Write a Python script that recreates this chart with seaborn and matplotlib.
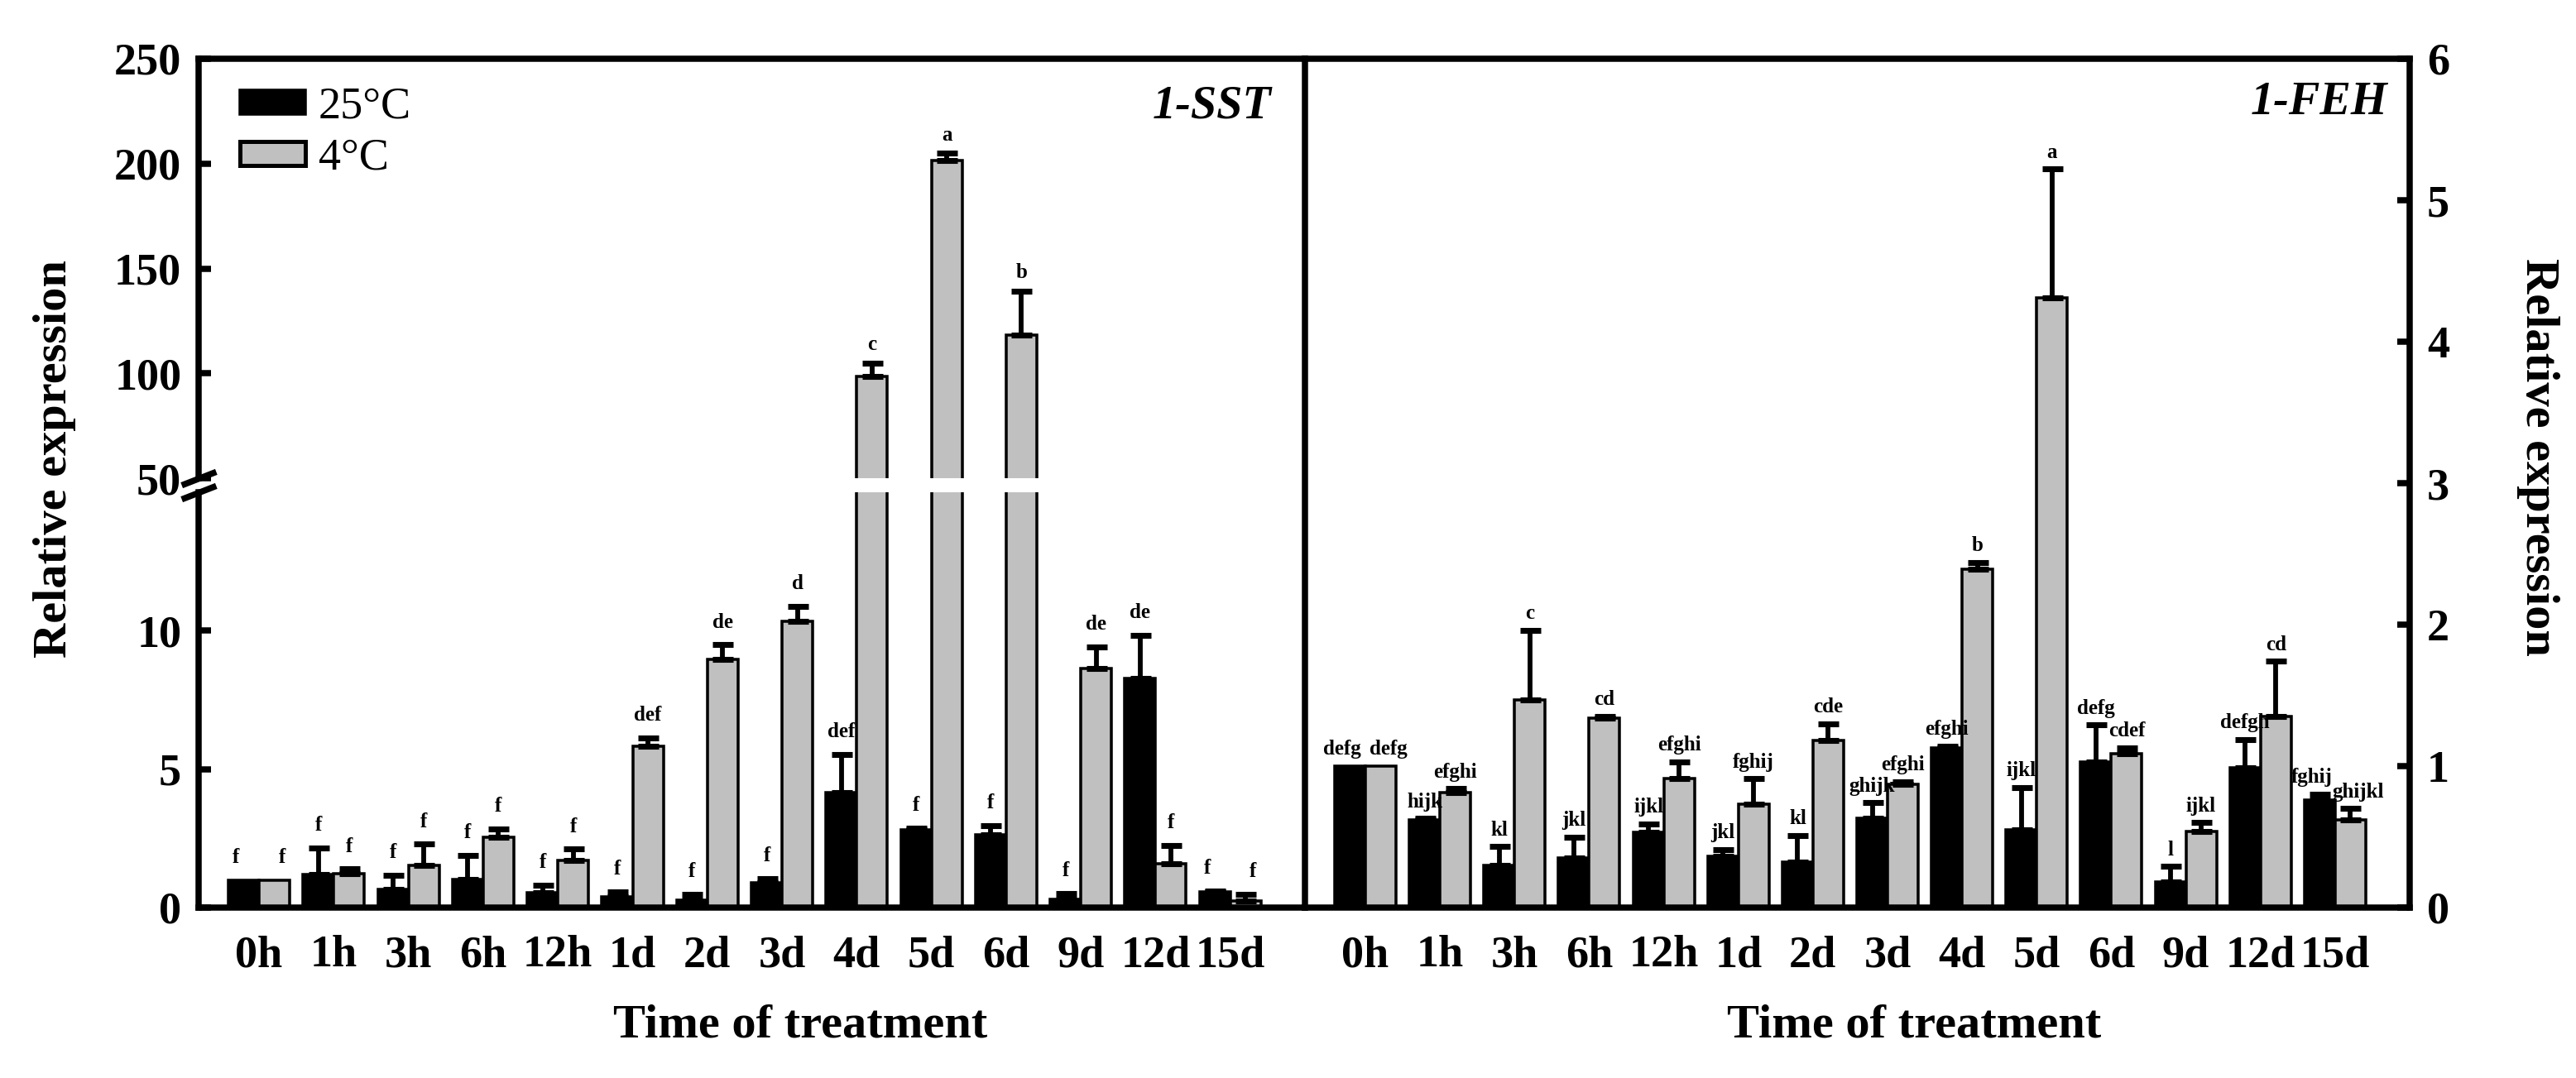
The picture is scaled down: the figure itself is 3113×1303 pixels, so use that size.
import numpy as np
import pandas as pd
import matplotlib
matplotlib.use("Agg")
import matplotlib.pyplot as plt
from matplotlib.patches import Patch
import seaborn as sns

# ==========================================
# data
# ==========================================
times = ["0h", "1h", "3h", "6h", "12h", "1d", "2d", "3d", "4d", "5d", "6d", "9d", "12d", "15d"]
temps = ["25°C", "4°C"]

# 1-SST
sst_25 = [1.0, 1.19, 0.66, 1.01, 0.55, 0.39, 0.27, 0.90, 4.15, 2.82, 2.64, 0.30, 8.27, 0.58]
sst_25_err = [0, 0.97, 0.50, 0.87, 0.26, 0.17, 0.22, 0.15, 1.39, 0.05, 0.33, 0.20, 1.56, 0.03]
sst_4 = [1.0, 1.24, 1.53, 2.55, 1.70, 5.82, 8.97, 10.34, 98.5, 201.6, 118.1, 8.65, 1.59, 0.25]
sst_4_err = [0, 0.15, 0.76, 0.29, 0.41, 0.31, 0.52, 0.54, 6.5, 3.3, 21.1, 0.77, 0.65, 0.22]
sst_25_sig = ["f", "f", "f", "f", "f", "f", "f", "f", "def", "f", "f", "f", "de", "f"]
sst_4_sig = ["f", "f", "f", "f", "f", "def", "de", "d", "c", "a", "b", "de", "f", "f"]

# 1-FEH
feh_25 = [1.0, 0.62, 0.30, 0.35, 0.53, 0.36, 0.32, 0.63, 1.13, 0.55, 1.03, 0.18, 0.99, 0.76]
feh_25_err = [0, 0.01, 0.13, 0.15, 0.06, 0.05, 0.19, 0.11, 0.01, 0.30, 0.26, 0.11, 0.20, 0.04]
feh_4 = [1.0, 0.81, 1.47, 1.34, 0.91, 0.73, 1.18, 0.87, 2.39, 4.31, 1.09, 0.54, 1.35, 0.62]
feh_4_err = [0, 0.03, 0.49, 0.01, 0.12, 0.18, 0.12, 0.02, 0.05, 0.91, 0.04, 0.06, 0.39, 0.08]
feh_25_sig = ["defg", "hijk", "kl", "jkl", "ijkl", "jkl", "kl", "ghijk", "efghi", "ijkl",
              "defg", "l", "defgh", "fghij"]
feh_4_sig = ["defg", "efghi", "c", "cd", "efghi", "fghij", "cde", "efghi", "b", "a",
             "cdef", "ijkl", "cd", "ghijkl"]


def make_df(v25, v4):
    return pd.DataFrame({
        "Time": times * 2,
        "Temp": [temps[0]] * len(times) + [temps[1]] * len(times),
        "Value": list(v25) + list(v4),
    })


df_sst = make_df(sst_25, sst_4)
df_feh = make_df(feh_25, feh_4)

# ==========================================
# style
# ==========================================
sns.set_style("ticks")
plt.rcParams["font.family"] = ["Liberation Serif", "DejaVu Serif"]
plt.rcParams["font.weight"] = "bold"
for key in ["axes.edgecolor", "text.color", "axes.labelcolor", "xtick.color", "ytick.color"]:
    plt.rcParams[key] = "black"

palette = {temps[0]: "black", temps[1]: "#C0C0C0"}
LW = 1.8
W, H = 3113, 1303

fig = plt.figure(figsize=(W / 300, H / 300), dpi=300)
ax_up = fig.add_axes([240 / W, 1 - 578 / H, 1337 / W, (578 - 71) / H])
ax_lo = fig.add_axes([240 / W, 1 - 1097 / H, 1337 / W, (1097 - 595) / H])
ax_r = fig.add_axes([1577 / W, 1 - 1097 / H, 1335 / W, (1097 - 71) / H])

for ax, df in [(ax_up, df_sst), (ax_lo, df_sst), (ax_r, df_feh)]:
    sns.barplot(data=df, x="Time", y="Value", hue="Temp", order=times, hue_order=temps,
                palette=palette, width=0.82, edgecolor="black", linewidth=0.85,
                errorbar=None, legend=False, ax=ax)
    ax.set_xlim(-0.81, 14.0)
    ax.set_xlabel("")
    ax.set_ylabel("")
    for sp in ax.spines.values():
        sp.set_linewidth(LW)
        sp.set_color("black")
    ax.tick_params(axis="y", direction="in", length=3.7, width=LW, labelsize=13, pad=5)
    ax.tick_params(axis="x", length=0, labelsize=13, pad=8)


def bar_centres(ax):
    out = []
    for cont in ax.containers[:2]:
        xs = sorted(b.get_x() + b.get_width() / 2 for b in cont)
        out.append(xs)
    return out


def add_err(ax, xs, vals, errs):
    idx = [i for i, e in enumerate(errs) if e > 0]
    ax.errorbar([xs[i] for i in idx], [vals[i] for i in idx],
                yerr=[[0] * len(idx), [errs[i] for i in idx]],
                fmt="none", ecolor="black", elinewidth=1.4, capsize=3, capthick=1.7,
                zorder=3)


def add_sig(ax, x, top, txt, dy, dx=0):
    ax.annotate(txt, (x, top), xytext=(dx, dy), textcoords="offset points",
                ha="center", va="baseline", fontsize=6, fontweight="bold")


def sig_pair(axes_for, xs, tops, sigs, dys, close):
    # letters of the two bars of one group: push apart sideways when at about the same height
    t25, t4 = tops
    dx = 2.2 if abs(t25 - t4) < close else 0
    add_sig(axes_for[0], xs[0], t25, sigs[0], dys[0], -dx)
    add_sig(axes_for[1], xs[1], t4, sigs[1], dys[1], dx)


# ---- left panel: 1-SST with broken axis ----
ax_lo.set_ylim(0, 15)
ax_lo.set_yticks([0, 5, 10])
ax_up.set_ylim(50, 250)
ax_up.set_yticks([50, 100, 150, 200, 250])
ax_lo.spines["top"].set_visible(False)
ax_lo.spines["right"].set_visible(False)
ax_up.spines["bottom"].set_visible(False)
ax_up.spines["right"].set_visible(False)
ax_up.tick_params(axis="x", labelbottom=False)
ax_lo.set_xticks(range(len(times)))
ax_lo.set_xticklabels(times, fontweight="bold")

xs_sst = bar_centres(ax_lo)
for k, (vals, errs) in enumerate([(sst_25, sst_25_err), (sst_4, sst_4_err)]):
    for ax in (ax_lo, ax_up):
        add_err(ax, xs_sst[k], vals, errs)
for i in range(len(times)):
    tops = (sst_25[i] + sst_25_err[i], sst_4[i] + sst_4_err[i])
    axs = [ax_lo if t < 15 else ax_up for t in tops]
    dys = [5 if a is ax_lo else 3.7 for a in axs]
    sig_pair(axs, (xs_sst[0][i], xs_sst[1][i]), tops, (sst_25_sig[i], sst_4_sig[i]), dys, 0.3)

# break marks on the left spine
for ax, yy in [(ax_up, 0), (ax_lo, 1)]:
    ax.plot([0], [yy], transform=ax.transAxes, marker=[(-1, -0.39), (1, 0.39)],
            markersize=10, mew=1.8, color="black", clip_on=False, zorder=5)

ax_up.text(0.970, 0.859, "1-SST", transform=ax_up.transAxes, ha="right", va="baseline",
           fontsize=13.5, fontweight="bold", fontstyle="italic")

handles = [Patch(facecolor="black", edgecolor="black", linewidth=0.85),
           Patch(facecolor="#C0C0C0", edgecolor="black", linewidth=1.2)]
ax_up.legend(handles, temps, loc="upper left", bbox_to_anchor=(0.0374, 0.935),
             frameon=False, borderpad=0, borderaxespad=0, handlelength=1.45,
             handleheight=0.45, handletextpad=0.3, labelspacing=0.22,
             prop={"size": 13, "weight": "normal"})

# ---- right panel: 1-FEH ----
ax_r.set_ylim(0, 6)
ax_r.set_yticks(range(7))
ax_r.yaxis.tick_right()
ax_r.tick_params(axis="y", left=False, right=True)
ax_r.set_xticks(range(len(times)))
ax_r.set_xticklabels(times, fontweight="bold")

xs_feh = bar_centres(ax_r)
for k, (vals, errs) in enumerate([(feh_25, feh_25_err), (feh_4, feh_4_err)]):
    add_err(ax_r, xs_feh[k], vals, errs)
for i in range(len(times)):
    tops = (feh_25[i] + feh_25_err[i], feh_4[i] + feh_4_err[i])
    sig_pair([ax_r, ax_r], (xs_feh[0][i], xs_feh[1][i]), tops,
             (feh_25_sig[i], feh_4_sig[i]), (3.3, 3.3), 0.12)

ax_r.text(0.980, 0.935, "1-FEH", transform=ax_r.transAxes, ha="right", va="baseline",
          fontsize=13.5, fontweight="bold", fontstyle="italic")

for a in (ax_up, ax_lo, ax_r):
    for lab in a.get_yticklabels():
        lab.set_fontweight("bold")

# ---- axis titles ----
fig.text(66 / W, 1 - 555 / H, "Relative expression", rotation=90, ha="center", va="center",
         fontsize=14, fontweight="bold")
fig.text(3067 / W, 1 - 552 / H, "Relative expression", rotation=270, ha="center", va="center",
         fontsize=14, fontweight="bold")
fig.text(967 / W, 1 - 1240 / H, "Time of treatment", ha="center", va="center",
         fontsize=14, fontweight="bold")
fig.text(2313 / W, 1 - 1240 / H, "Time of treatment", ha="center", va="center",
         fontsize=14, fontweight="bold")

fig.savefig("out.png", dpi=300)
